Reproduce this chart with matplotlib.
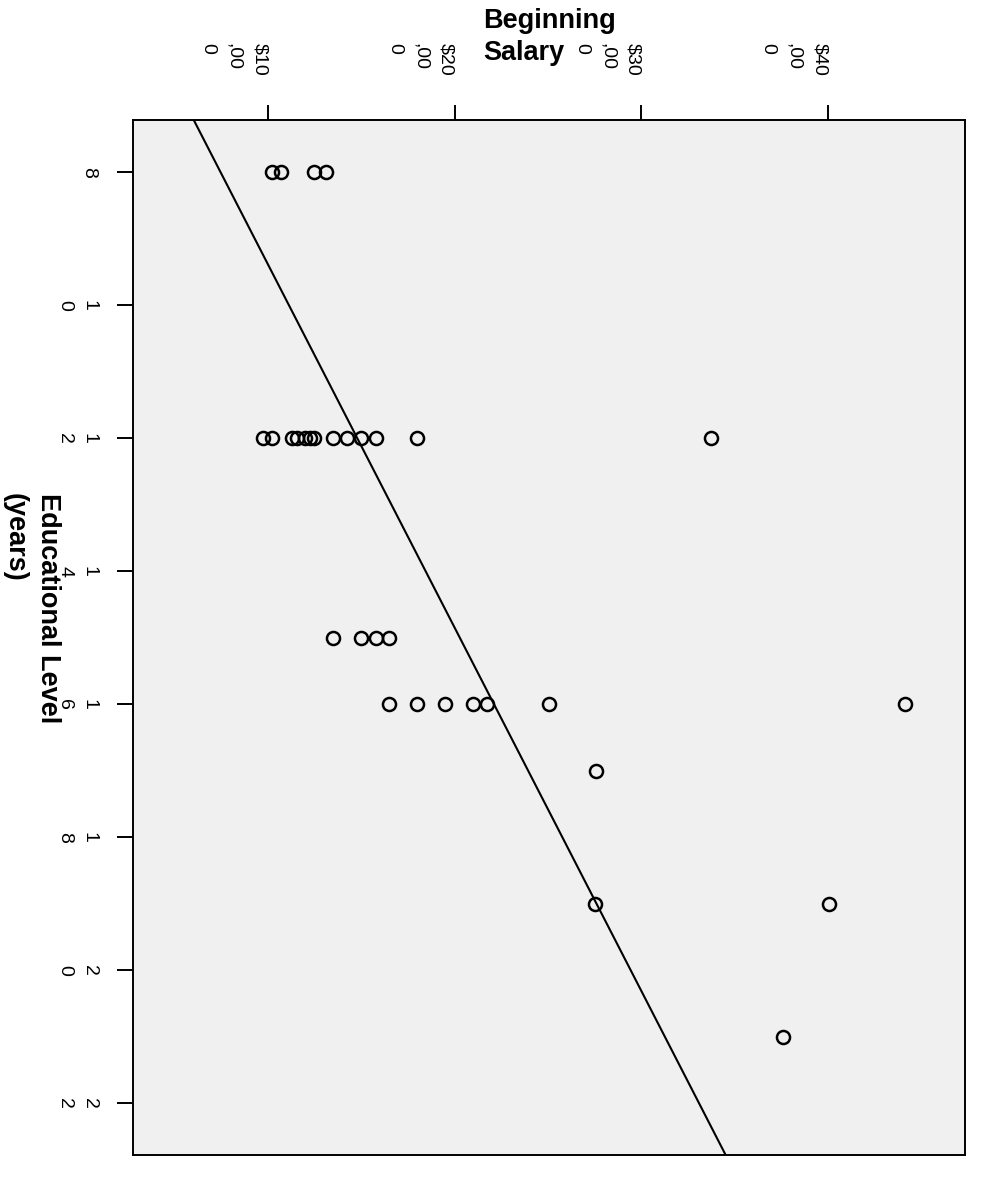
import matplotlib
matplotlib.use("Agg")
import matplotlib.pyplot as plt

plt.rcParams['font.family'] = ['Liberation Sans', 'DejaVu Sans']

# data (educational level in years, beginning salary in $)
edu_years = [8, 8, 8, 8,
             12, 12, 12, 12, 12, 12, 12, 12, 12, 12, 12, 12, 12,
             15, 15, 15, 15,
             16, 16, 16, 16, 16, 16, 16,
             17, 19, 19, 21]
begin_salary = [10200, 10700, 12450, 13100,
                9750, 10200, 11300, 11550, 12000, 12250, 12450, 13500, 14250, 15000, 15800, 18000, 33750,
                13500, 15000, 15800, 16500,
                16500, 18000, 19500, 21000, 21750, 25050, 44100,
                27550, 27500, 40050, 37600]

# fit line (salary = intercept + slope * years)
fit_intercept = -7194
fit_slope = 1831

salary_ticks = [10000, 20000, 30000, 40000]
salary_labels = ["$10\n,00\n0", "$20\n,00\n0", "$30\n,00\n0", "$40\n,00\n0"]
edu_ticks = [8, 10, 12, 14, 16, 18, 20, 22]
edu_labels = ["8", "1\n0", "1\n2", "1\n4", "1\n6", "1\n8", "2\n0", "2\n2"]

W, H = 997, 1185
fig = plt.figure(figsize=(W / 100, H / 100), dpi=100)
ax = fig.add_axes([133 / W, 1 - 1155 / H, (965 - 133) / W, (1155 - 120) / H])
ax.set_facecolor('#f0f0f0')

ax.plot(begin_salary, edu_years, linestyle='none', marker='o', markersize=9.4,
        markerfacecolor='none', markeredgecolor='black', markeredgewidth=1.8)
ax.axline((fit_intercept + fit_slope * 8, 8), (fit_intercept + fit_slope * 22, 22),
          color='black', linewidth=1.5)

ax.set_xlim(2768, 47338)
ax.set_ylim(22.78, 7.218)

ax.xaxis.tick_top()
ax.set_xticks(salary_ticks, salary_labels, rotation=-90, ha='right',
              multialignment='left', fontsize=14, linespacing=1.67)
ax.set_yticks(edu_ticks, edu_labels, rotation=-90, ha='right', va='center',
              multialignment='left', fontsize=14, linespacing=1.58)
ax.tick_params(axis='x', length=10.8, width=1.4, pad=21)
ax.tick_params(axis='y', length=11.5, width=1.4, pad=14)
for sp in ax.spines.values():
    sp.set_linewidth(1.4)

fig.text(549.5 / W, 1 - 8 / H, "Beginning\nSalary", ha='center', va='top',
         multialignment='left', fontsize=19.5, fontweight='bold', linespacing=1.3)
fig.text(31 / W, 1 - 608.5 / H, "Educational Level\n(years)", ha='center', va='center',
         rotation=-90, multialignment='left', fontsize=19.5, fontweight='bold', linespacing=1.35)

fig.savefig("out.png", dpi=100)
